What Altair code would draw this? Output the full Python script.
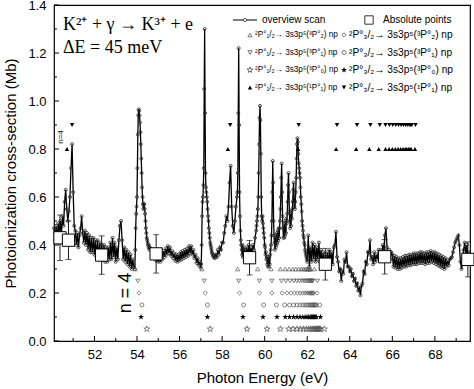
import altair as alt
import pandas as pd

# ---------------- overview scan ----------------
# each segment: (first photon energy / eV, energy step / eV, cross-sections / Mb)
scan_a = (50.10, 0.05, [
    0.47, 0.42, 0.48, 0.43, 0.49, 0.44, 0.50, 0.45, 0.52, 0.48,
    0.58, 0.63, 0.55, 0.50, 0.54, 0.60, 0.72, 0.82, 0.62, 0.48,
    0.46, 0.40, 0.45, 0.39, 0.44, 0.47, 0.52, 0.45, 0.41, 0.46,
    0.40, 0.45, 0.38, 0.44, 0.37, 0.43, 0.37, 0.43, 0.36, 0.42,
    0.35, 0.42, 0.34, 0.41, 0.34, 0.40, 0.34, 0.40, 0.33, 0.39,
    0.33, 0.39, 0.34, 0.41, 0.34, 0.43, 0.35, 0.41, 0.33, 0.39,
    0.34, 0.42, 0.48, 0.50, 0.42, 0.34, 0.39, 0.33, 0.38, 0.32,
    0.37, 0.31, 0.36, 0.30, 0.34, 0.31])
scan_b = (53.90, 0.02, [
    0.30, 0.38, 0.47, 0.53, 0.56, 0.60, 0.72, 0.86, 0.94, 0.965,
    0.96, 0.94, 0.91, 0.87, 0.82, 0.76, 0.70, 0.64, 0.60, 0.57,
    0.55, 0.57, 0.57, 0.55, 0.53, 0.50, 0.47, 0.45, 0.43, 0.42,
    0.41, 0.40, 0.39, 0.40, 0.38, 0.39])
scan_c = (54.65, 0.05, [
    0.385, 0.355, 0.38, 0.345, 0.37, 0.335, 0.365, 0.33, 0.36, 0.33,
    0.365, 0.34, 0.375, 0.35, 0.385, 0.36, 0.395, 0.365, 0.39, 0.355,
    0.375, 0.345, 0.365, 0.335, 0.36, 0.33, 0.36, 0.335, 0.37, 0.34,
    0.375, 0.345, 0.38, 0.35, 0.385, 0.355, 0.395, 0.365, 0.395, 0.36,
    0.38, 0.345, 0.36, 0.325, 0.345, 0.315, 0.33, 0.305])
scan_d = (57.02, 0.02, [
    0.32, 0.40, 0.52, 0.58, 0.60, 0.65, 0.72, 1.05, 1.30, 0.95,
    0.70, 0.64, 0.62, 0.60, 0.58, 0.55, 0.52, 0.50, 0.47, 0.45,
    0.43, 0.41, 0.40, 0.39, 0.38, 0.37, 0.365, 0.36, 0.355, 0.35])
scan_e = (57.65, 0.05, [
    0.345, 0.36, 0.35, 0.38, 0.36, 0.39, 0.38, 0.41, 0.41, 0.45,
    0.48, 0.52, 0.50, 0.56, 0.66, 0.73, 0.56, 0.48, 0.45, 0.50,
    0.56, 0.60])
scan_f = (58.72, 0.02, [
    0.62, 0.70, 0.95, 1.22, 0.90, 0.62, 0.52, 0.46, 0.42, 0.40,
    0.38, 0.36, 0.40, 0.35, 0.39])
scan_g = (59.05, 0.05, [
    0.38, 0.34, 0.39, 0.35, 0.40, 0.35, 0.39, 0.36, 0.40, 0.38,
    0.43, 0.46])
scan_h = (59.62, 0.02, [
    0.48, 0.50, 0.52, 0.55, 0.60, 0.70, 0.82, 0.93, 0.98, 0.92,
    0.78, 0.60, 0.52, 0.50, 0.52, 0.49, 0.47, 0.45, 0.43, 0.40])
scan_i = (60.02, 0.02, [
    0.39, 0.36, 0.37, 0.34, 0.35, 0.32, 0.35, 0.31, 0.34, 0.31,
    0.35, 0.32, 0.36, 0.38, 0.40, 0.44, 0.50, 0.62, 0.75, 0.66,
    0.50, 0.44, 0.41, 0.38, 0.43, 0.39, 0.44, 0.40, 0.45, 0.41,
    0.46, 0.42, 0.47, 0.43, 0.47, 0.50, 0.55, 0.60, 0.68, 0.74,
    0.62, 0.52, 0.47, 0.43, 0.48, 0.43, 0.49, 0.44, 0.50, 0.45,
    0.51, 0.49, 0.53, 0.58, 0.65, 0.70, 0.62, 0.54, 0.50, 0.47,
    0.53, 0.48, 0.54, 0.51, 0.55, 0.58, 0.63, 0.66, 0.60, 0.56,
    0.55, 0.58, 0.62, 0.68, 0.76, 0.82, 0.845, 0.83, 0.78, 0.74,
    0.72, 0.70, 0.68, 0.64, 0.60, 0.57, 0.54, 0.50, 0.48, 0.46,
    0.44, 0.43, 0.41, 0.40, 0.38, 0.37, 0.36, 0.35, 0.34])
scan_j = (62.00, 0.05, [
    0.33, 0.44, 0.31, 0.39, 0.33, 0.41, 0.34, 0.40, 0.33, 0.39,
    0.34, 0.41, 0.33, 0.38, 0.32, 0.37, 0.31, 0.36, 0.31, 0.37,
    0.32, 0.38, 0.33, 0.37, 0.32, 0.39, 0.40, 0.455, 0.35, 0.33,
    0.29, 0.30, 0.25, 0.29, 0.28, 0.34, 0.33, 0.37, 0.31, 0.31,
    0.29, 0.30, 0.27, 0.28, 0.25, 0.26, 0.23, 0.24, 0.21, 0.22,
    0.19, 0.23, 0.24, 0.29, 0.28, 0.33, 0.32, 0.37, 0.36, 0.42,
    0.34, 0.35, 0.32, 0.37, 0.33, 0.36, 0.34, 0.38, 0.35, 0.38,
    0.36, 0.40, 0.38, 0.44, 0.47, 0.39, 0.35, 0.38, 0.34, 0.37,
    0.36, 0.31, 0.355, 0.305, 0.35, 0.30, 0.345, 0.30, 0.345, 0.305,
    0.35, 0.31, 0.355, 0.31, 0.355, 0.315, 0.36, 0.315, 0.36, 0.32,
    0.365, 0.32, 0.365, 0.32, 0.365, 0.325, 0.37, 0.325, 0.37, 0.325,
    0.365, 0.32, 0.37, 0.325, 0.37, 0.325, 0.375, 0.33, 0.37, 0.325,
    0.37, 0.32, 0.365, 0.315, 0.36, 0.31, 0.355, 0.305, 0.35, 0.30,
    0.345, 0.31, 0.335, 0.315, 0.34, 0.345, 0.35, 0.37, 0.39, 0.41,
    0.42, 0.43, 0.44, 0.40, 0.33, 0.30, 0.32, 0.38, 0.41, 0.36,
    0.40, 0.34, 0.37])
scan_segments = [scan_a, scan_b, scan_c, scan_d, scan_e,
                 scan_f, scan_g, scan_h, scan_i, scan_j]

# ---------------- absolute measurements ----------------
abs_ev = [50.38, 50.78, 52.34, 54.90, 59.29, 62.85, 65.64, 69.55]
abs_mb = [0.43, 0.42, 0.358, 0.363, 0.347, 0.32, 0.351, 0.34]
abs_err = [0.095, 0.08, 0.08, 0.08, 0.072, 0.066, 0.072, 0.073]

# ---------------- Rydberg series (resonance energies, eV) ----------------
ryd_12_3p2 = [53.91, 57.05, 58.73, 59.67, 60.30, 60.74, 60.96, 61.15, 61.32, 61.46,
              61.60, 61.72, 61.82, 61.90, 61.97, 62.02, 62.06, 62.10, 62.13, 62.16, 62.34]
ryd_12_3p1 = [54.04, 57.16, 58.78, 59.75, 60.34, 60.79, 61.00, 61.19, 61.36, 61.51,
              61.64, 61.76, 61.86, 61.94, 62.01, 62.07, 62.12, 62.16, 62.20, 62.23, 62.26, 62.48]
ryd_12_3p0 = [54.46, 57.44, 59.17, 60.11, 60.74, 61.13, 61.33, 61.52, 61.68, 61.82,
              61.95, 62.06, 62.15, 62.23, 62.30, 62.36, 62.41, 62.46, 62.50, 62.54, 62.58, 62.62, 62.81]
ryd_12_1p1 = [50.71, 58.27, 61.57, 63.36, 64.30, 64.92, 65.36, 65.68, 65.85, 66.00,
              66.14, 66.27, 66.39, 66.50, 66.60, 66.68, 66.76, 66.83, 66.88, 67.06]
ryd_32_3p2 = [54.10, 57.21, 58.82, 59.76, 60.34, 60.82, 61.05, 61.24, 61.40, 61.54,
              61.67, 61.79, 61.89, 61.97, 62.04, 62.10, 62.15, 62.19, 62.23, 62.27, 62.30, 62.46]
ryd_32_3p1 = [54.23, 57.31, 59.01, 59.95, 60.55, 60.94, 61.17, 61.36, 61.52, 61.66,
              61.79, 61.90, 61.99, 62.07, 62.14, 62.20, 62.25, 62.30, 62.34, 62.38, 62.43, 62.58]
ryd_32_3p0 = [54.19, 57.31, 58.98, 59.92, 60.58, 60.97, 61.17, 61.36, 61.52, 61.66,
              61.79, 61.90, 61.99, 62.07, 62.14, 62.20, 62.25, 62.30, 62.34, 62.38, 62.43, 62.62]
ryd_32_1p1 = [50.95, 58.38, 61.60, 63.40, 64.34, 64.97, 65.41, 65.68, 65.86, 66.02,
              66.16, 66.29, 66.41, 66.52, 66.62, 66.71, 66.79, 66.86, 66.92, 67.09]

# height (Mb) at which each series row is marked
ryd_rows = {
    "12_3p2": (ryd_12_3p2, 0.30), "12_3p1": (ryd_12_3p1, 0.25),
    "32_3p2": (ryd_32_3p2, 0.20), "32_3p1": (ryd_32_3p1, 0.15),
    "32_3p0": (ryd_32_3p0, 0.10), "12_3p0": (ryd_12_3p0, 0.05),
    "12_1p1": (ryd_12_1p1, 0.80), "32_1p1": (ryd_32_1p1, 0.90),
}

legend_left = ["²P°₁/₂→ 3s3p⁵(³P°₂) np", "²P°₁/₂→ 3s3p⁵(³P°₁) np",
               "²P°₁/₂→ 3s3p⁵(³P°₀) np", "²P°₁/₂→ 3s3p⁵(¹P°₁) np"]
legend_right = ["²P°₃/₂→ 3s3p⁵(³P°₂) np", "²P°₃/₂→ 3s3p⁵(³P°₁) np",
                "²P°₃/₂→ 3s3p⁵(³P°₀) np", "²P°₃/₂→ 3s3p⁵(¹P°₁) np"]

x_major = [52, 54, 56, 58, 60, 62, 64, 66, 68]
x_minor = [51, 53, 55, 57, 59, 61, 63, 65, 67, 69]
y_major = [0.0, 0.2, 0.4, 0.6, 0.8, 1.0, 1.2, 1.4]
y_minor = [0.1, 0.3, 0.5, 0.7, 0.9, 1.1, 1.3]

# ---------------- styling / layout ----------------
W, H = 416, 336
X_DOMAIN = [50.1, 69.65]
Y_DOMAIN = [0.0, 1.4]
SANS = "Liberation Sans"
SERIF = "Liberation Serif"
STAR = ("M0,-1L0.2245,-0.309L0.951,-0.309L0.363,0.118L0.588,0.809L0,0.38"
        "L-0.588,0.809L-0.363,0.118L-0.951,-0.309L-0.2245,-0.309Z")
ryd_style = {
    "12_3p2": ("triangle-up", False, 18), "12_3p1": ("triangle-down", False, 18),
    "12_3p0": (STAR, False, 40), "12_1p1": ("triangle-up", True, 20),
    "32_3p2": ("diamond", False, 18), "32_3p1": ("circle", False, 16),
    "32_3p0": (STAR, True, 40), "32_1p1": ("triangle-down", True, 20),
}
OPEN_GREY = "#555555"

x_axis = alt.Axis(values=x_major, format="d", title="Photon Energy (eV)",
                  ticks=False, domain=False, grid=False, labelPadding=7,
                  titlePadding=9, labelFont=SANS, titleFont=SANS,
                  labelFontSize=13, titleFontSize=15, titleFontWeight="normal",
                  labelColor="black", titleColor="black")
y_axis = alt.Axis(values=y_major, format=".1f",
                  title="Photoionization cross-section (Mb)",
                  ticks=False, domain=False, grid=False, labelPadding=8,
                  titlePadding=9, labelFont=SANS, titleFont=SANS,
                  labelFontSize=13, titleFontSize=15, titleFontWeight="normal",
                  labelColor="black", titleColor="black")


def X(field="ev"):
    return alt.X(f"{field}:Q", scale=alt.Scale(domain=X_DOMAIN, nice=False, zero=False),
                 axis=x_axis)


def Y(field="mb"):
    return alt.Y(f"{field}:Q", scale=alt.Scale(domain=Y_DOMAIN, nice=False, zero=False),
                 axis=y_axis)


# ---------------- tables ----------------
scan_rows = []
for start, step, values in scan_segments:
    for i, v in enumerate(values):
        scan_rows.append({"ev": round(start + i * step, 3), "mb": v})
scan = pd.DataFrame(scan_rows)

absolute = pd.DataFrame({"ev": abs_ev, "mb": abs_mb, "err": abs_err})
absolute["lo"] = absolute["mb"] - absolute["err"]
absolute["hi"] = absolute["mb"] + absolute["err"]
caps = pd.concat([absolute[["ev"]].assign(mb=absolute["lo"]),
                  absolute[["ev"]].assign(mb=absolute["hi"])])

one = pd.DataFrame({"k": [0]})

layers = []

# scan: black trace with small open circles
layers.append(alt.Chart(scan).mark_line(color="black", strokeWidth=1.3)
              .encode(x=X(), y=Y()))
layers.append(alt.Chart(scan).mark_point(shape="circle", size=9, filled=False,
                                         color="#2a2a2a", strokeWidth=0.8, opacity=1)
              .encode(x=X(), y=Y()))

# absolute points with error bars
layers.append(alt.Chart(absolute).mark_rule(color="black", strokeWidth=0.9)
              .encode(x=X(), y=Y("lo"), y2="hi:Q"))
layers.append(alt.Chart(caps).mark_tick(orient="horizontal", color="black",
                                        size=6, thickness=0.9)
              .encode(x=X(), y=Y()))
layers.append(alt.Chart(absolute).mark_point(shape="square", size=150, filled=True,
                                             fill="white", stroke="black",
                                             strokeWidth=1, opacity=1)
              .encode(x=X(), y=Y()))

# Rydberg series rows
for key, (energies, level) in ryd_rows.items():
    shape, filled, size = ryd_style[key]
    df = pd.DataFrame({"ev": energies, "mb": [level] * len(energies)})
    if filled:
        mark = alt.Chart(df).mark_point(shape=shape, size=size, filled=True,
                                        color="black", opacity=1)
    else:
        mark = alt.Chart(df).mark_point(shape=shape, size=size, filled=False,
                                        color=OPEN_GREY, strokeWidth=0.7, opacity=1)
    layers.append(mark.encode(x=X(), y=Y()))

# inward ticks on the bottom and left edges
layers.append(alt.Chart(pd.DataFrame({"ev": x_major})).mark_rule(color="black", strokeWidth=1)
              .encode(x=X(), y=alt.value(H), y2=alt.value(H - 5)))
layers.append(alt.Chart(pd.DataFrame({"ev": x_minor})).mark_rule(color="black", strokeWidth=1)
              .encode(x=X(), y=alt.value(H), y2=alt.value(H - 3)))
layers.append(alt.Chart(pd.DataFrame({"mb": y_major})).mark_rule(color="black", strokeWidth=1)
              .encode(y=Y(), x=alt.value(0), x2=alt.value(5)))
layers.append(alt.Chart(pd.DataFrame({"mb": y_minor})).mark_rule(color="black", strokeWidth=1)
              .encode(y=Y(), x=alt.value(0), x2=alt.value(3)))


def text(s, x, y, size, font=SANS, angle=0, align="left", baseline="middle"):
    return (alt.Chart(one)
            .mark_text(text=s, font=font, fontSize=size, angle=angle, align=align,
                       baseline=baseline, color="black")
            .encode(x=alt.value(x), y=alt.value(y)))


def symbol(shape, x, y, size, filled, color="black"):
    if filled:
        m = alt.Chart(one).mark_point(shape=shape, size=size, filled=True,
                                      color=color, opacity=1)
    else:
        m = alt.Chart(one).mark_point(shape=shape, size=size, filled=False,
                                      color=color, strokeWidth=0.8, opacity=1)
    return m.encode(x=alt.value(x), y=alt.value(y))


# annotations
layers.append(text("K²⁺ + γ → K³⁺ + e", 9, 25, 18, font=SERIF, baseline="alphabetic"))
layers.append(text("ΔE = 45 meV", 9, 48, 18, font=SERIF, baseline="alphabetic"))
layers.append(text("n = 4", 72, 288, 18, angle=270, align="center"))
layers.append(text("n=4", 7, 132, 8, angle=270, align="center"))

# legend
layers.append(alt.Chart(one).mark_rule(color="black", strokeWidth=1)
              .encode(x=alt.value(179), x2=alt.value(203), y=alt.value(15)))
layers.append(symbol("circle", 191, 15, 10, True, color="white"))
layers.append(symbol("circle", 191, 15, 10, False, color="#333333"))
layers.append(text("overview scan", 208, 15, 10))
layers.append(symbol("square", 315, 15, 70, False))
layers.append(text("Absolute  points", 329, 15, 10))

left_keys = ["12_3p2", "12_3p1", "12_3p0", "12_1p1"]
right_keys = ["32_3p2", "32_3p1", "32_3p0", "32_1p1"]
row_y = [30, 47.5, 65, 82.5]
for i in range(4):
    for keys, labels, sx, tx, fs in ((left_keys, legend_left, 196, 201, 8.2),
                                     (right_keys, legend_right, 290, 295, 10.2)):
        shape, filled, size = ryd_style[keys[i]]
        layers.append(symbol(shape, sx, row_y[i], size, filled,
                             color="black" if filled else OPEN_GREY))
        layers.append(text(labels[i], tx, row_y[i], fs))

chart = (alt.layer(*layers)
         .properties(width=W, height=H,
                     autosize=alt.AutoSizeParams(type="none"),
                     padding={"left": 54, "top": 5, "right": 4, "bottom": 48},
                     background="white")
         .configure_view(stroke="black", strokeWidth=1.2))

chart.save("out.html", embed_options={"renderer": "svg", "actions": False})
